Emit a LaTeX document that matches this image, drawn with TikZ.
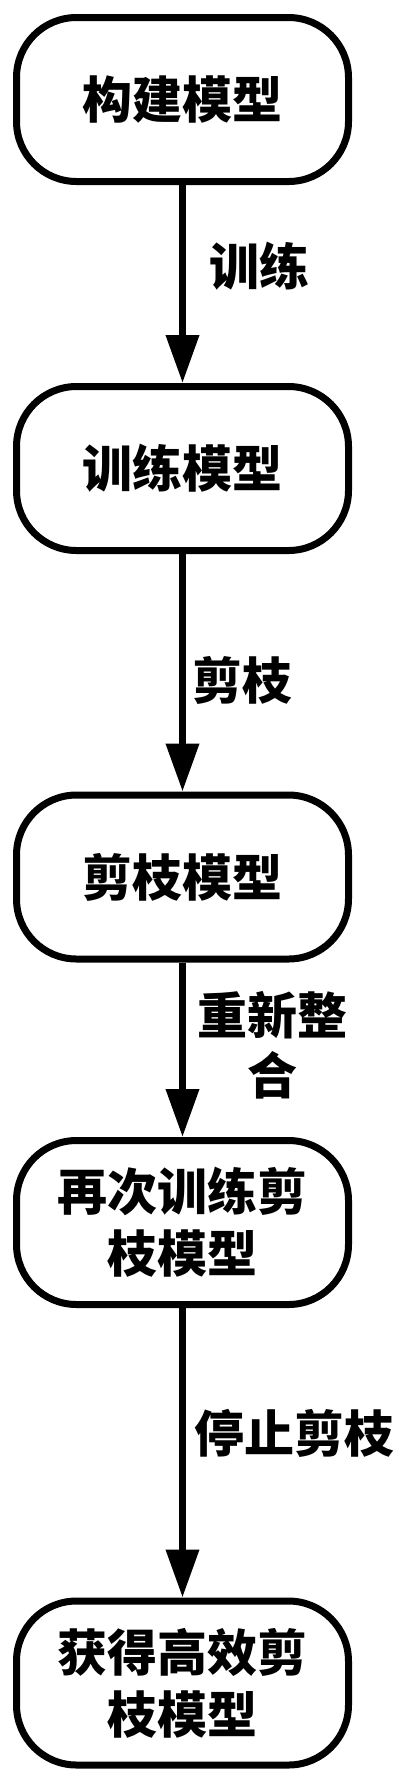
\documentclass[tikz,border=0pt]{standalone}
\usepackage{fontspec}
\newfontfamily\cjk{Noto Sans CJK SC}
\usetikzlibrary{arrows.meta}
\tikzset{
  stage/.style = {draw, line width = 3.5pt, rounded corners = 30pt, minimum width = 166pt, minimum height = 82pt, inner sep = 0pt, align = center, font = \cjk\bfseries\fontsize{25}{31}\selectfont},
  flow/.style = {line width = 3.5pt, -{Triangle[width = 16pt, length = 24pt]}},
  tag/.style = {inner sep = 0pt, align = center, font = \cjk\bfseries\fontsize{25}{30}\selectfont}
}
\begin{document}
\begin{tikzpicture}[x = 0.5pt, y = -0.5pt]
\useasboundingbox (0,0) rectangle (406,1785);
\foreach \n/\y/\t in {b1/99.5/{构建模型}, b2/468.5/{训练模型}, b3/877/{剪枝模型}, b4/1222.5/{再次训练剪\\枝模型}, b5/1683/{获得高效剪\\枝模型}}
  \node [stage] (\n) at (182.5,\y) {\t};
\foreach \a/\b in {b1/b2, b2/b3, b3/b4, b4/b5} \draw [flow] (\a) -- (\b);
\node [tag] (t1) at (259,266) {训练};
\node [tag] (t2) at (242,680) {剪枝};
\node [tag] (t3) at (272,1045) {重新整\\合};
\node [tag] (t4) at (294,1433) {停止剪枝};
\end{tikzpicture}
\end{document}
